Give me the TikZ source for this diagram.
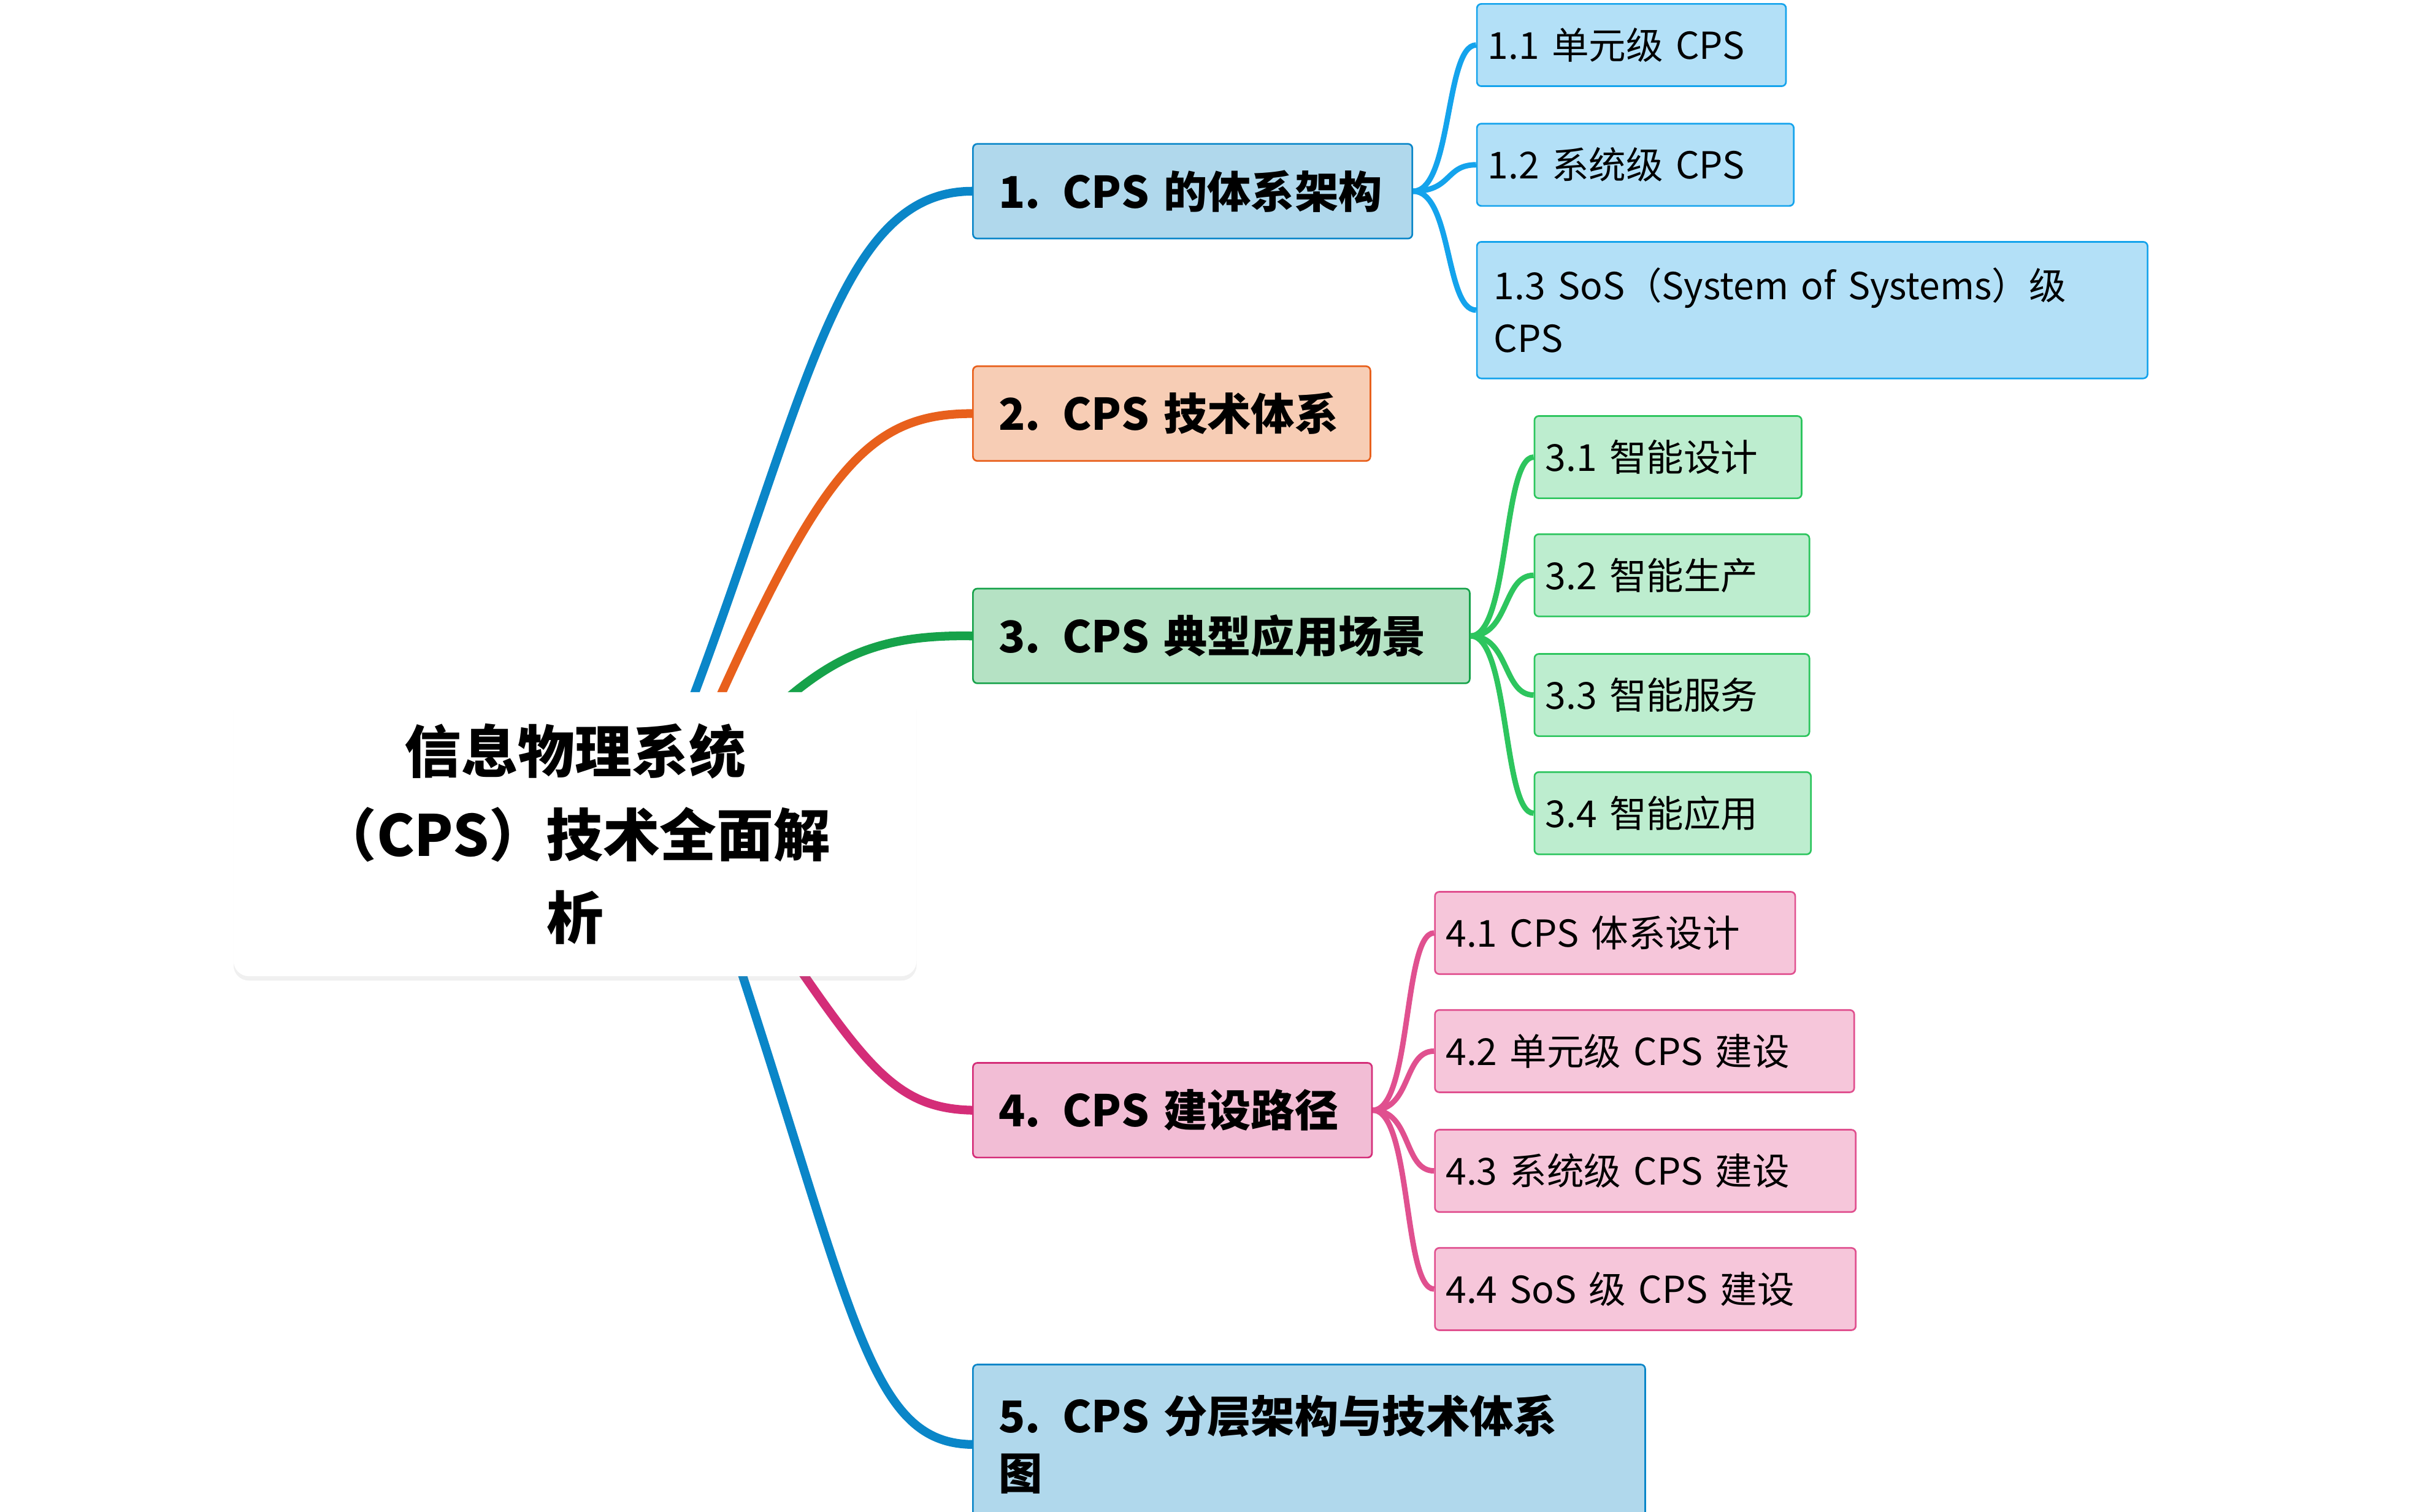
\documentclass[tikz,border=0pt]{standalone}
\usepackage{fontspec}
\setmainfont{Noto Sans CJK SC}
\usetikzlibrary{shadows}
\definecolor{bA}{HTML}{0A86C8}\definecolor{bAf}{HTML}{B0D8EC}
\definecolor{sA}{HTML}{14A3EC}\definecolor{sAf}{HTML}{B3E0F7}
\definecolor{bB}{HTML}{E8601C}\definecolor{bBf}{HTML}{F7CDB5}
\definecolor{bC}{HTML}{16A24A}\definecolor{bCf}{HTML}{B5E2C4}
\definecolor{sC}{HTML}{2DC55E}\definecolor{sCf}{HTML}{BDEDCF}
\definecolor{bD}{HTML}{D42D78}\definecolor{bDf}{HTML}{F2BDD5}
\definecolor{sD}{HTML}{E0508F}\definecolor{sDf}{HTML}{F6C6DA}
\tikzset{
 box/.style={anchor=north west,rounded corners=4pt,line width=1.5pt,align=left,inner xsep=12pt,inner ysep=0pt},
 br/.style={box,font=\fontsize{40}{52}\selectfont\bfseries},
 sb/.style={box,font=\fontsize{34}{48}\selectfont,inner xsep=10pt},
 thick1/.style={line width=8pt},
 thin1/.style={line width=5pt},
}
\begin{document}
\begin{tikzpicture}[x=0.05cm,y=-0.05cm]
\useasboundingbox (0,0) rectangle (1552,972);
% branches
\node[br,draw=bA,fill=bAf,minimum width=283*1.42pt,minimum height=61*1.42pt,text width=250*1.42pt] (b1) at (625,92) {1. CPS 的体系架构};
\node[br,draw=bB,fill=bBf,minimum width=256*1.42pt,minimum height=61*1.42pt,text width=223*1.42pt] (b2) at (625,235) {2. CPS 技术体系};
\node[br,draw=bC,fill=bCf,minimum width=320*1.42pt,minimum height=61*1.42pt,text width=287*1.42pt] (b3) at (625,378) {3. CPS 典型应用场景};
\node[br,draw=bD,fill=bDf,minimum width=257*1.42pt,minimum height=61*1.42pt,text width=224*1.42pt] (b4) at (625,683) {4. CPS 建设路径};
\node[br,draw=bA,fill=bAf,minimum width=433*1.42pt,minimum height=103*1.42pt,text width=400*1.42pt] (b5) at (625,877) {5. CPS 分层架构与技术体系\\图};
% subs
\foreach \n/\y/\w/\t in {a1/2/199/1.1 单元级 CPS,a2/79/204/1.2 系统级 CPS}
 \node[sb,draw=sA,fill=sAf,minimum width=\w*1.42pt,minimum height=53*1.42pt,text width=(\w-14)*1.42pt] (\n) at (949,\y) {\t};
\node[sb,draw=sA,fill=sAf,minimum width=432*1.42pt,minimum height=88*1.42pt,text width=410*1.42pt] (a3) at (949,155) {1.3 SoS（System of Systems）级\\CPS};
\foreach \n/\y/\w/\t in {c1/267/172/3.1 智能设计,c2/343/177/3.2 智能生产,c3/420/177/3.3 智能服务,c4/496/178/3.4 智能应用}
 \node[sb,draw=sC,fill=sCf,minimum width=\w*1.42pt,minimum height=53*1.42pt,text width=(\w-14)*1.42pt] (\n) at (986,\y) {\t};
\foreach \n/\y/\w/\t in {d1/573/232/4.1 CPS 体系设计,d2/649/270/4.2 单元级 CPS 建设,d3/726/271/4.3 系统级 CPS 建设,d4/802/271/4.4 SoS 级 CPS 建设}
 \node[sb,draw=sD,fill=sDf,minimum width=\w*1.42pt,minimum height=53*1.42pt,text width=(\w-14)*1.42pt] (\n) at (922,\y) {\t};
% sub connectors
\foreach \s in {a1,a2,a3} \draw[thin1,sA] (b1.east) .. controls +(25,0) and +(-20,0) .. (\s.west);
\foreach \s in {c1,c2,c3,c4} \draw[thin1,sC] (b3.east) .. controls +(25,0) and +(-20,0) .. (\s.west);
\foreach \s in {d1,d2,d3,d4} \draw[thin1,sD] (b4.east) .. controls +(25,0) and +(-20,0) .. (\s.west);
% root connectors
\coordinate (r1) at (445,450); \coordinate (r2) at (462,450); \coordinate (r3) at (505,450);
\coordinate (r4) at (512,620); \coordinate (r5) at (475,620);
\draw[thick1,bA] (r1) .. controls (520,250) and (540,123) .. (b1.west);
\draw[thick1,bB] (r2) .. controls (530,300) and (560,266) .. (b2.west);
\draw[thick1,bC] (r3) .. controls (540,420) and (570,408) .. (b3.west);
\draw[thick1,bD] (r4) .. controls (560,690) and (580,713) .. (b4.west);
\draw[thick1,bA] (r5) .. controls (550,850) and (560,928) .. (b5.west);
% root
\node[anchor=north west,fill=white,rounded corners=14pt,minimum width=440*1.42pt,minimum height=183*1.42pt,
 drop shadow={opacity=0.12,shadow xshift=0pt,shadow yshift=-4pt},
 text width=380*1.42pt,align=center,font=\fontsize{52}{76}\selectfont\bfseries] (root) at (150,445) {信息物理系统\\（CPS）技术全面解\\析};
\end{tikzpicture}
\end{document}
